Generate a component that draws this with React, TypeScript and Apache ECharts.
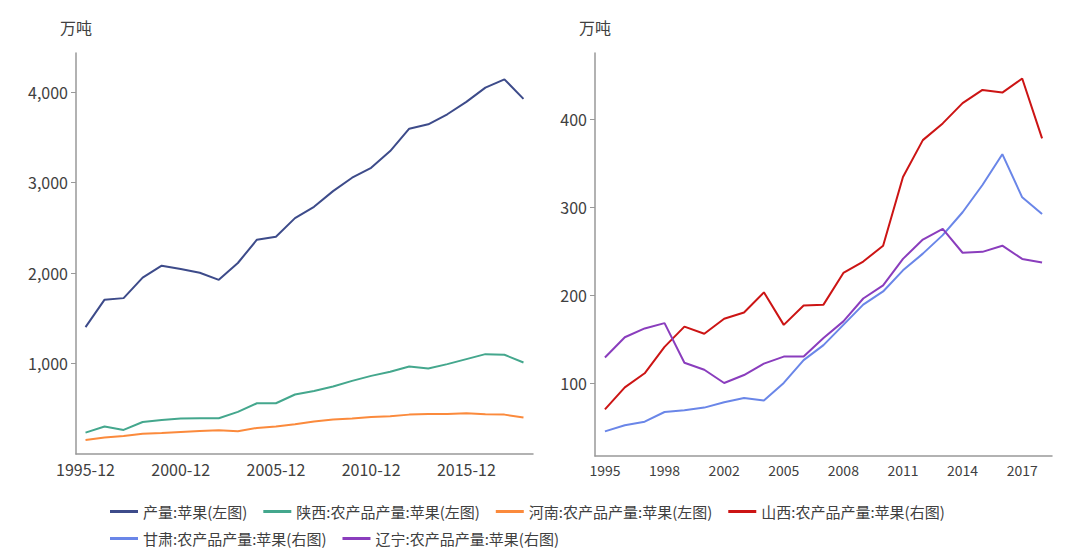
import React, { useEffect, useRef } from "react";
import * as echarts from "echarts";

// Left panel: year-end categories (万吨)
const leftCategories = [
  "1995-12", "1996-12", "1997-12", "1998-12", "1999-12", "2000-12",
  "2001-12", "2002-12", "2003-12", "2004-12", "2005-12", "2006-12",
  "2007-12", "2008-12", "2009-12", "2010-12", "2011-12", "2012-12",
  "2013-12", "2014-12", "2015-12", "2016-12", "2017-12", "2018-12",
];
const nationalApple = [
  1401, 1705, 1722, 1948, 2080, 2043, 2002, 1924, 2110, 2367, 2401, 2606,
  2731, 2904, 3052, 3162, 3347, 3594, 3642, 3753, 3890, 4048, 4139, 3923,
];
const shaanxiApple = [
  236, 303, 266, 354, 376, 391, 395, 395, 465, 561, 561, 657,
  697, 745, 808, 863, 908, 967, 945, 993, 1048, 1103, 1096, 1011,
];
const henanApple = [
  155, 181, 199, 225, 232, 244, 255, 262, 251, 288, 303, 328,
  358, 380, 391, 410, 417, 435, 443, 443, 450, 439, 435, 402,
];
const leftTicks = [1000, 2000, 3000, 4000];

// Right panel: yearly categories (万吨)
const rightCategories = [
  "1995", "1996", "1997", "1998", "1999", "2000", "2002", "2003",
  "2004", "2005", "2006", "2007", "2008", "2009", "2010", "2011",
  "2012", "2013", "2014", "2015", "2016", "2017", "2018",
];
const shanxiApple = [
  70, 95, 111, 141, 164, 156, 173, 180, 203, 166, 188, 189,
  225, 238, 256, 334, 376, 395, 418, 433, 430, 446, 378,
];
const gansuApple = [
  45, 52, 56, 67, 69, 72, 78, 83, 80, 100, 126, 143,
  166, 189, 204, 228, 247, 268, 294, 325, 360, 311, 292,
];
const liaoningApple = [
  129, 152, 162, 168, 123, 115, 100, 109, 122, 130, 130, 151,
  170, 196, 211, 241, 263, 275, 248, 249, 256, 241, 237,
];
const rightTicks = [100, 200, 300, 400];

const seriesNames = [
  "产量:苹果(左图)",
  "陕西:农产品产量:苹果(左图)",
  "河南:农产品产量:苹果(左图)",
  "山西:农产品产量:苹果(右图)",
  "甘肃:农产品产量:苹果(右图)",
  "辽宁:农产品产量:苹果(右图)",
];
const seriesColors = ["#3d4b8a", "#44a78d", "#fb8a3c", "#cc1414", "#6a86e8", "#8a3dbd"];

const FONT = "'Noto Sans CJK SC', 'Noto Sans', sans-serif";
const TEXT = "#404040";
const AXIS = "#999999";

export default function App() {
  const ref = useRef<HTMLDivElement>(null);

  useEffect(() => {
    document.body.style.margin = "0";
    if (!ref.current) return;
    const chart = echarts.init(ref.current, undefined, { renderer: "svg" });

    const axisLineStyle = { lineStyle: { color: AXIS, width: 1.5 } };

    const line = (idx: number, data: number[], axis: number) => ({
      name: seriesNames[idx],
      type: "line",
      xAxisIndex: axis,
      yAxisIndex: axis,
      data,
      showSymbol: false,
      color: seriesColors[idx],
      lineStyle: { width: 2, color: seriesColors[idx] },
    });

    // Two legend rows, each laid out on its own line
    const legendRow = (top: number, names: string[]) => ({
      left: 110,
      top,
      padding: 0,
      itemGap: 16,
      itemWidth: 28,
      itemHeight: 3,
      icon: "rect",
      textStyle: { fontSize: 15, color: TEXT, fontFamily: FONT },
      data: names,
    });

    chart.setOption({
      animation: false,
      textStyle: { fontFamily: FONT },
      grid: [
        { left: 76, right: 547, top: 53, bottom: 100 },
        { left: 595, right: 28, top: 53, bottom: 98 },
      ],
      legend: [
        legendRow(504, seriesNames.slice(0, 4)),
        legendRow(531, seriesNames.slice(4)),
      ],
      xAxis: [
        {
          type: "category",
          gridIndex: 0,
          data: leftCategories,
          boundaryGap: true,
          axisLine: axisLineStyle,
          axisTick: { interval: 4, alignWithLabel: true, length: 5, lineStyle: { color: AXIS } },
          axisLabel: { interval: 4, fontSize: 16, color: TEXT, margin: 7 },
        },
        {
          type: "category",
          gridIndex: 1,
          data: rightCategories,
          boundaryGap: true,
          axisLine: axisLineStyle,
          axisTick: { interval: 2, alignWithLabel: true, length: 5, lineStyle: { color: AXIS } },
          axisLabel: { interval: 2, fontSize: 14, color: TEXT, margin: 7 },
        },
      ],
      yAxis: [
        {
          type: "value",
          gridIndex: 0,
          min: 0,
          max: 4430,
          name: "万吨",
          nameLocation: "end",
          nameGap: 18,
          nameTextStyle: { fontSize: 16, color: TEXT },
          axisLine: { show: true, ...axisLineStyle },
          axisTick: { show: true, length: 5, customValues: leftTicks, lineStyle: { color: AXIS } },
          axisLabel: {
            customValues: leftTicks,
            fontSize: 16,
            color: TEXT,
            margin: 8,
            formatter: (v: number) => v.toLocaleString("en-US"),
          },
          splitLine: { show: false },
        },
        {
          type: "value",
          gridIndex: 1,
          min: 17,
          max: 475,
          name: "万吨",
          nameLocation: "end",
          nameGap: 18,
          nameTextStyle: { fontSize: 16, color: TEXT },
          axisLine: { show: true, ...axisLineStyle },
          axisTick: { show: true, length: 5, customValues: rightTicks, lineStyle: { color: AXIS } },
          axisLabel: { customValues: rightTicks, fontSize: 16, color: TEXT, margin: 8 },
          splitLine: { show: false },
        },
      ],
      series: [
        line(0, nationalApple, 0),
        line(1, shaanxiApple, 0),
        line(2, henanApple, 0),
        line(3, shanxiApple, 1),
        line(4, gansuApple, 1),
        line(5, liaoningApple, 1),
      ],
    });

    return () => chart.dispose();
  }, []);

  return <div ref={ref} style={{ width: 1080, height: 554 }} />;
}
